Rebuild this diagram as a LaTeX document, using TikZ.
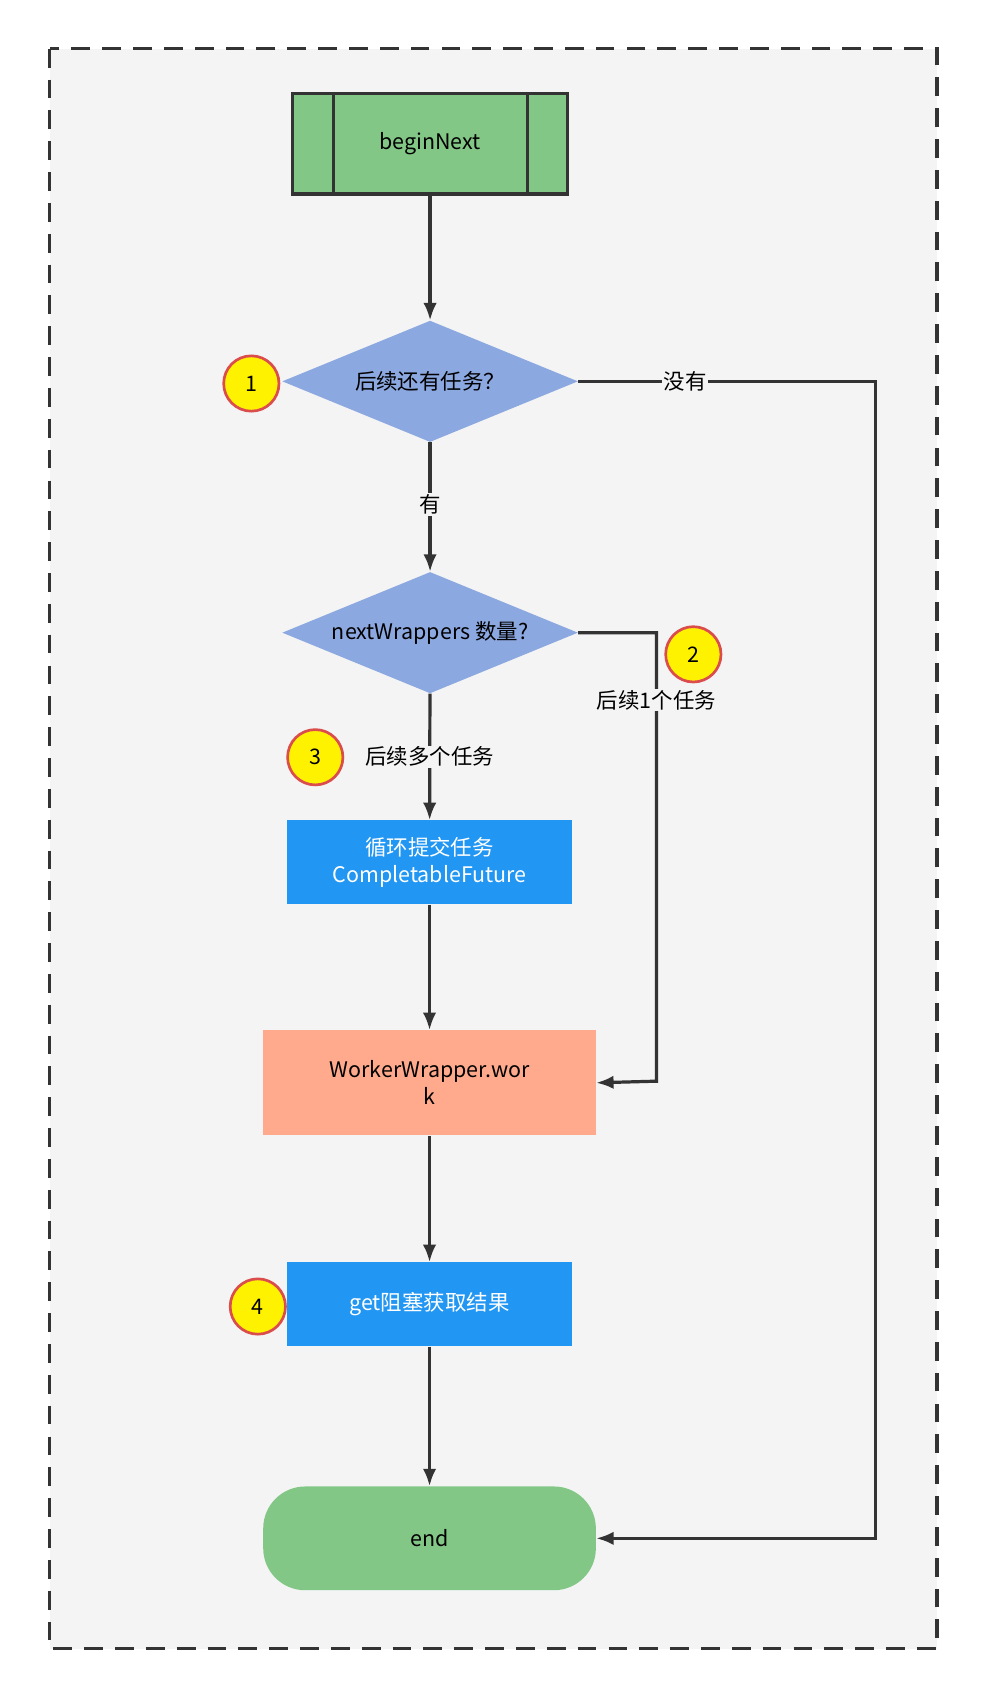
\documentclass[tikz,border=0pt]{standalone}
\usepackage{fontspec}
\setmainfont{Noto Sans CJK SC}
\usetikzlibrary{shapes.geometric,arrows.meta}
\definecolor{bgc}{HTML}{F4F4F4}
\definecolor{ln}{HTML}{333333}
\definecolor{grn}{HTML}{82C785}
\definecolor{dia}{HTML}{8CA8E0}
\definecolor{blu}{HTML}{2196F3}
\definecolor{sal}{HTML}{FFAA8C}
\begin{document}
\begin{tikzpicture}[x=0.0284cm,y=-0.0284cm,
  font=\fontsize{16}{20}\selectfont,
  arr/.style={draw=ln,line width=2.4pt,-{Latex[length=13pt,width=10pt]}},
  dia/.style={diamond,fill=dia,aspect=2.43,minimum width=7.75cm,minimum height=3.18cm,inner sep=0pt,text=black},
  box/.style={rectangle,minimum width=#1,inner sep=0pt},
  lab/.style={fill=bgc,inner sep=1pt,text=black},
  num/.style={circle,fill=yellow,draw=red!80!black!70,line width=2pt,minimum size=1.45cm,inner sep=0pt}]
\useasboundingbox (0,0) rectangle (910,1560);
\draw[fill=bgc,draw=ln,line width=2.4pt,dash pattern=on 14pt off 9pt] (46,45) rectangle (865,1522);
% nodes
\node[box=7.2cm,minimum height=2.64cm,fill=grn,draw=ln,line width=2.4pt] (begin) at (397,132.5) {beginNext};
\draw[ln,line width=2.4pt] (308,86) -- (308,179) (487,86) -- (487,179);
\node[dia] (d1) at (397,352) {后续还有任务？};
\node[dia] (d2) at (397,584) {nextWrappers 数量?};
\node[box=7.47cm,minimum height=2.2cm,fill=blu,text=white,align=center] (loop) at (396.5,796) {循环提交任务\\CompletableFuture};
\node[box=8.72cm,minimum height=2.75cm,fill=sal,align=center] (work) at (396.5,999.5) {WorkerWrapper.wor\\k};
\node[box=7.47cm,minimum height=2.2cm,fill=blu,text=white] (get) at (396.5,1204) {get阻塞获取结果};
\node[box=8.72cm,minimum height=2.72cm,fill=grn,rounded corners=1.1cm] (end) at (396.5,1420) {end};
% connectors
\draw[arr] (begin) -- (d1);
\draw[arr] (d1) -- node[lab,pos=0.48]{有} (d2);
\coordinate (c1) at (808,352);
\coordinate (c2) at (808,1420);
\draw[arr] (d1.east) -- node[lab,pos=0.36]{没有} (c1) -- (c2) -- (end.east);
\coordinate (c3) at (606,584);
\coordinate (c4) at (606,998);
\draw[arr] (d2.east) -- (c3) -- node[lab,pos=0.15]{后续1个任务} (c4) -- (work.east);
\draw[arr] (d2) -- node[lab,pos=0.5]{后续多个任务} (loop);
\draw[arr] (loop) -- (work);
\draw[arr] (work) -- (get);
\draw[arr] (get) -- (end);
% markers
\node[num] (n1) at (232,354) {1};
\node[num] (n2) at (640,604) {2};
\node[num] (n3) at (291,699) {3};
\node[num] (n4) at (238,1206) {4};
\end{tikzpicture}
\end{document}
